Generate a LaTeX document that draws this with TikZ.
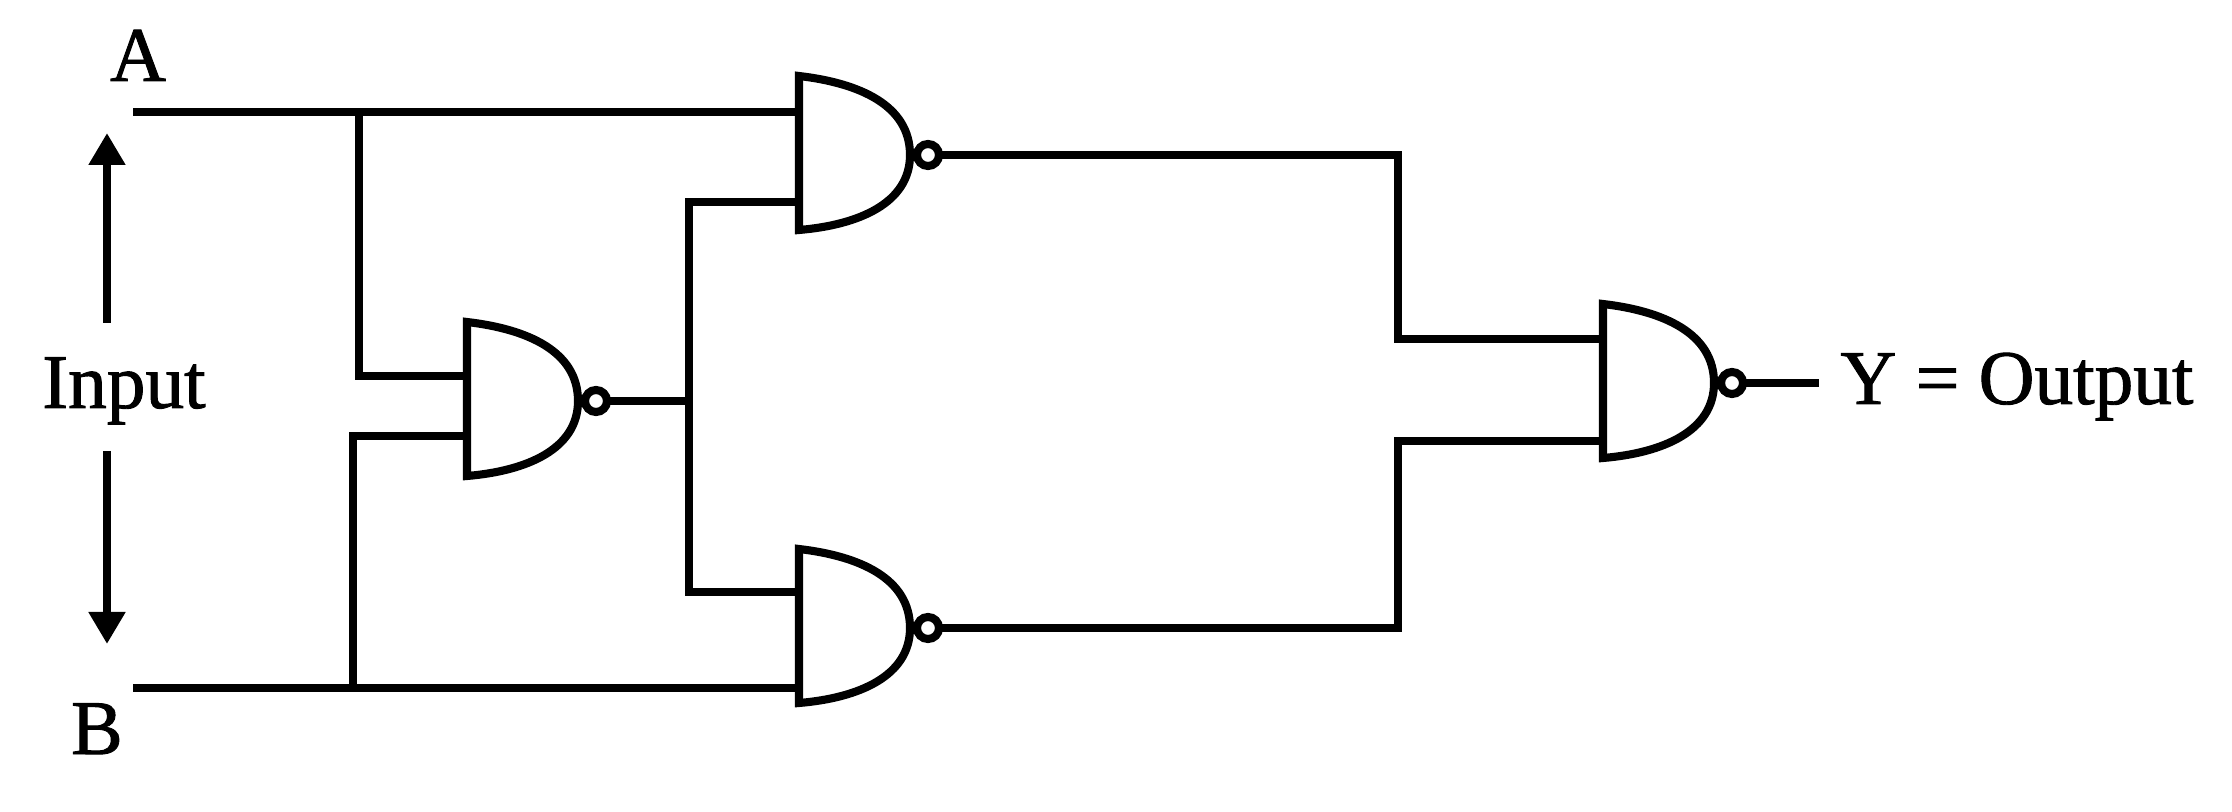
\documentclass[tikz,border=0pt]{standalone}
\usepackage{fontspec}
\setmainfont{Liberation Serif}[FakeBold=1.2]
\usetikzlibrary{arrows.meta}
\tikzset{
	wire/.style={line width=2.3pt,line join=miter},
	gatebody/.style={line width=2.3pt,line join=miter},
	gatebubble/.style={draw,circle,line width=2.3pt,inner sep=0pt,outer sep=0pt,minimum size=0.22cm},
	lbl/.style={font=\fontsize{22}{26}\selectfont,inner sep=0pt,anchor=base},
	inarrow/.style={line width=2.4pt,-{Triangle[width=0.35cm,length=0.32cm]}},
}
% one NAND body, left edge at #1, with its output bubble named #2
\newcommand{\nandgate}[2]{
	\draw[gatebody,shift={(#1)}] (0,0.79) -- (0,-0.75) .. controls (0.6,-0.7) and (1.11,-0.48) .. (1.11,0) .. controls (1.11,0.5) and (0.6,0.72) .. (0,0.79) -- cycle;
	\node[gatebubble,shift={(#1)}] (#2) at (1.29,0) {};
}
\begin{document}
\begin{tikzpicture}[x=1cm,y=1cm]
	\useasboundingbox (0,0) rectangle (22.32,-8.12);
	\nandgate{7.99,-1.55}{gA}
	\nandgate{4.67,-4.01}{gB}
	\nandgate{7.99,-6.28}{gC}
	\nandgate{16.03,-3.83}{gD}

	\node[lbl] (a) at (1.38,-0.81) {A};
	\node[lbl] (b) at (0.97,-7.54) {B};
	\node[lbl] (inp) at (1.24,-4.08) {Input};
	\node[lbl] (out) at (20.17,-4.04) {Y = Output};

	\coordinate (aStart) at (1.33,-1.12);
	\coordinate (bStart) at (1.33,-6.88);
	\coordinate (outEnd) at (18.19,-3.83);
	\coordinate (upFrom) at (1.07,-3.23);
	\coordinate (upTip) at (1.07,-1.33);
	\coordinate (dnFrom) at (1.07,-4.51);
	\coordinate (dnTip) at (1.07,-6.44);

	\draw[wire] (aStart) -- (7.99,-1.12);
	\draw[wire] (bStart) -- (7.99,-6.88);
	\draw[wire] (3.59,-1.12) |- (4.67,-3.76);
	\draw[wire] (3.53,-6.88) |- (4.67,-4.36);
	\draw[wire] (gB) -- (6.89,-4.01);
	\draw[wire] (7.99,-2.02) -| (6.89,-5.92) -- (7.99,-5.92);
	\draw[wire] (gA) -| (13.98,-3.39) -- (16.03,-3.39);
	\draw[wire] (gC) -| (13.98,-4.41) -- (16.03,-4.41);
	\draw[wire] (gD) -- (outEnd);

	\draw[inarrow] (upFrom) -- (upTip);
	\draw[inarrow] (dnFrom) -- (dnTip);
\end{tikzpicture}
\end{document}
